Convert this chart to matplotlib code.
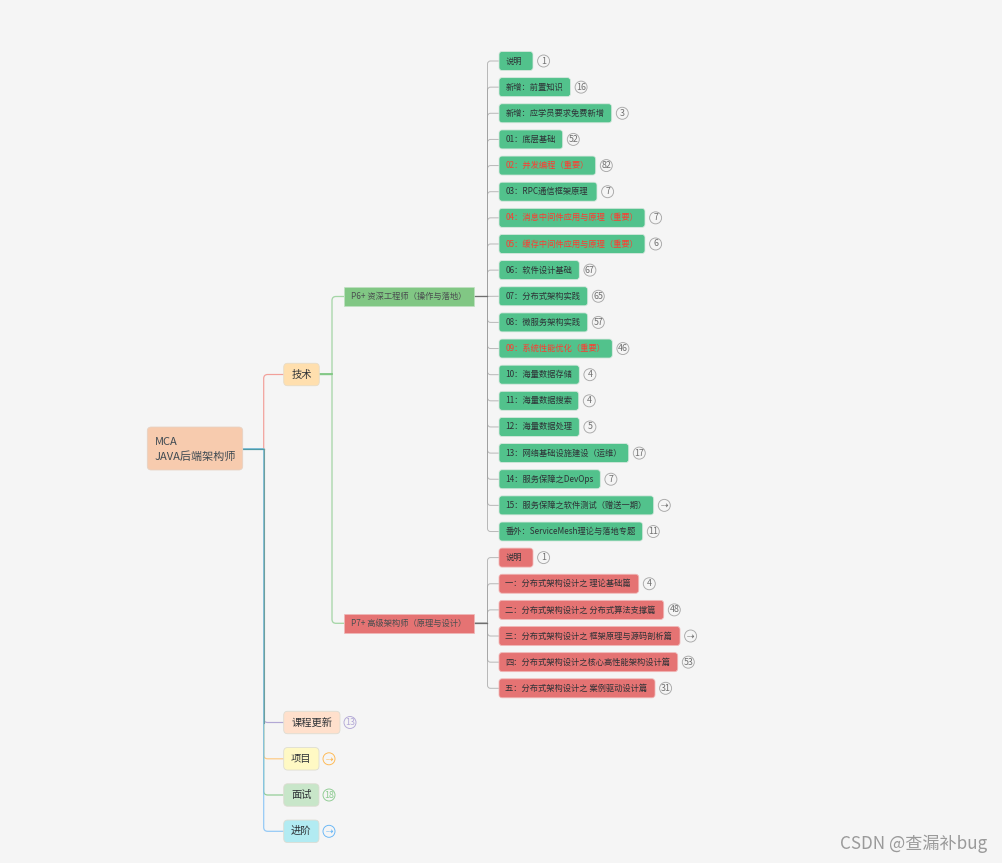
import matplotlib
matplotlib.use("Agg")
import matplotlib.pyplot as plt
from matplotlib.patches import FancyBboxPatch, Circle, PathPatch
from matplotlib.path import Path

plt.rcParams['font.family'] = ['Noto Sans CJK SC', 'DejaVu Sans']

# ---------- content ----------
root_label = "MCA\nJAVA后端架构师"
tech_label = "技术"
p6_label = "P6+ 资深工程师（操作与落地）"
p7_label = "P7+ 高级架构师（原理与设计）"
p6_items = ["说明", "新增：前置知识", "新增：应学员要求免费新增", "01：底层基础",
            "02：并发编程（重要）", "03：RPC通信框架原理",
            "04：消息中间件应用与原理（重要）", "05：缓存中间件应用与原理（重要）",
            "06：软件设计基础", "07：分布式架构实践", "08：微服务架构实践",
            "09：系统性能优化（重要）", "10：海量数据存储", "11：海量数据搜索",
            "12：海量数据处理", "13：网络基础设施建设（运维）", "14：服务保障之DevOps",
            "15：服务保障之软件测试（赠送一期）", "番外：ServiceMesh理论与落地专题"]
p6_counts = ["1", "16", "3", "52", "82", "7", "7", "6", "67", "65", "57", "46",
             "4", "4", "5", "17", "7", "⇢", "11"]
p6_important = [4, 6, 7, 11]
p7_items = ["说明", "一：分布式架构设计之 理论基础篇", "二：分布式架构设计之 分布式算法支撑篇",
            "三：分布式架构设计之 框架原理与源码剖析篇", "四：分布式架构设计之核心高性能架构设计篇",
            "五：分布式架构设计之 案例驱动设计篇"]
p7_counts = ["1", "4", "48", "⇢", "53", "31"]
side_items = ["课程更新", "项目", "面试", "进阶"]
side_counts = ["13", "⇢", "18", "⇢"]
watermark = "CSDN @查漏补bug"

# ---------- layout and style ----------
p6_right = [533, 570.5, 611.7, 562.7, 595.7, 597, 645, 645, 579.3, 587.7, 587.7,
            612.3, 579.3, 578.7, 579.3, 628.7, 600.3, 653.7, 642.7]
p7_right = [533, 638.7, 663.7, 680, 677.7, 655]
side_right = [340, 319, 319, 319]
side_y = [722.5, 758.8, 795, 831.3]
side_fill = ["#FFE0CC", "#FFF9C4", "#C8E6C9", "#B2EBF2"]
side_line = ["#A79BD0", "#FFC370", "#7FC683", "#80C0F5"]
side_circ = ["#B3A8D6", "#FFB74D", "#8CCB90", "#64B5F6"]
ROW = 26.14
BG = "#F5F5F5"
GREEN = "#52C28C"
RED = "#E57373"
INK = "#2E3236"

fig = plt.figure(figsize=(10.02, 8.63), dpi=100, facecolor=BG)
ax = fig.add_axes([0, 0, 1, 1])
ax.set_xlim(0, 1002)
ax.set_ylim(863, 0)
ax.axis("off")
PT = 0.72


def box(x0, x1, yc, h, fill, edge, r=3):
    ax.add_patch(FancyBboxPatch((x0 + r, yc - h / 2 + r), x1 - x0 - 2 * r, h - 2 * r,
                                boxstyle=f"round,pad={r},rounding_size={r}",
                                fc=fill, ec=edge, lw=0.8 * PT, zorder=3))


def elbow(x0, y0, xv, y1, x1, color, lw=1.0, alpha=1.0, r=4):
    if abs(y1 - y0) < 0.5:
        verts, codes = [(x0, y0), (x1, y1)], [Path.MOVETO, Path.LINETO]
    else:
        s = 1 if y1 > y0 else -1
        verts = [(x0, y0), (xv, y0), (xv, y1 - s * r), (xv, y1), (xv + r, y1), (x1, y1)]
        codes = [Path.MOVETO, Path.LINETO, Path.LINETO, Path.CURVE3, Path.CURVE3, Path.LINETO]
    ax.add_patch(PathPatch(Path(verts, codes), fc="none", ec=color, lw=lw * PT,
                           alpha=alpha, zorder=1, capstyle="butt"))


def badge(xc, yc, txt, edge, tcolor):
    ax.add_patch(Circle((xc, yc), 6, fc=BG, ec=edge, lw=0.9 * PT, zorder=3))
    if txt == "⇢":
        ax.text(xc, yc, txt, ha="center", va="center", fontsize=6.5, color=tcolor,
                family="DejaVu Sans", zorder=4)
    else:
        ax.text(xc, yc, txt, ha="center", va="center", fontsize=6.4, color=tcolor, zorder=4)


def leaves(items, counts, rights, y0, py, fill, important=()):
    for i, (name, cnt, xr) in enumerate(zip(items, counts, rights)):
        y = y0 + ROW * i
        elbow(474.5, py, 487.5, y, 499, "#A0A0A0", lw=1.0, alpha=0.7, r=3)
        box(499, xr, y, 19, fill, "#D8E8DF" if fill == GREEN else "#F0B8B8")
        col = "#FF3B30" if i in important else INK
        ax.text(505.5, y, name, ha="left", va="center", fontsize=5.95, color=col, zorder=4)
        badge(xr + 10.6, y, cnt, "#A8A8A8", "#707070")


# root branches
ROOT_Y = 448.7
TRUNK = 263.7
elbow(242.7, ROOT_Y, TRUNK, 374.5, 283.7, "#F2A09A", lw=1.2)
for y, c in zip(side_y, side_line):
    elbow(242.7, ROOT_Y, TRUNK, y, 283.7, c, lw=1.2, alpha=0.85)
ax.plot([242.7, TRUNK], [ROOT_Y, ROOT_Y], color="#4D9AA6", lw=1.2 * PT, zorder=1)
ax.plot([TRUNK, TRUNK], [ROOT_Y, 722.5], color="#6F9F9C", lw=1.1 * PT, zorder=1)

# technical branches
elbow(319.3, 374.5, 332, 296.5, 344, "#A5D6A7", lw=1.3)
elbow(319.3, 374.5, 332, 623.3, 344, "#A5D6A7", lw=1.3)
ax.plot([319.3, 332], [374.5, 374.5], color="#81C784", lw=1.8 * PT, zorder=1)

# leaves
leaves(p6_items, p6_counts, p6_right, 61, 296.5, GREEN, p6_important)
leaves(p7_items, p7_counts, p7_right, 557.6, 623.3, RED)
ax.plot([474.5, 487.5], [296.5, 296.5], color="#6F6F6F", lw=1.3 * PT, zorder=2)
ax.plot([474.5, 487.5], [623.3, 623.3], color="#6F6F6F", lw=1.3 * PT, zorder=2)

# second level rectangles
for y, fill, edge, lab in [(296.5, "#81C784", "#BFE0C1", p6_label), (623.3, RED, "#F0B8B8", p7_label)]:
    ax.add_patch(plt.Rectangle((344, y - 9.6), 130.5, 19.2, fc=fill, ec=edge, lw=0.7 * PT, zorder=3))
    ax.text(351, y, lab, ha="left", va="center", fontsize=5.95, color="#4A4F50", zorder=4)

# root and first level
box(147.3, 242.7, 448.5, 43, "#F7CBAE", "#E6D2C4", r=4)
ax.text(154.5, 449, root_label, ha="left", va="center", fontsize=8.0, color="#3F4A52",
        linespacing=1.5, zorder=4)
box(283.7, 319.3, 374.5, 22.5, "#FFDFAE", "#E6DCC8", r=4)
ax.text(301.5, 374.5, tech_label, ha="center", va="center", fontsize=7.4, color=INK, zorder=4)
for name, cnt, y, xr, fc, cc in zip(side_items, side_counts, side_y, side_right, side_fill, side_circ):
    box(283.7, xr, y, 22.5, fc, "#DDDCD2", r=4)
    ax.text((283.7 + xr) / 2, y, name, ha="center", va="center", fontsize=7.4, color=INK, zorder=4)
    badge(xr + 10, y, cnt, cc, cc)

# watermark
ax.text(987, 843.5, watermark, ha="right", va="center", fontsize=12.3, color="#9A9A9A", zorder=5)

fig.savefig("out.png", dpi=100, facecolor=BG)
